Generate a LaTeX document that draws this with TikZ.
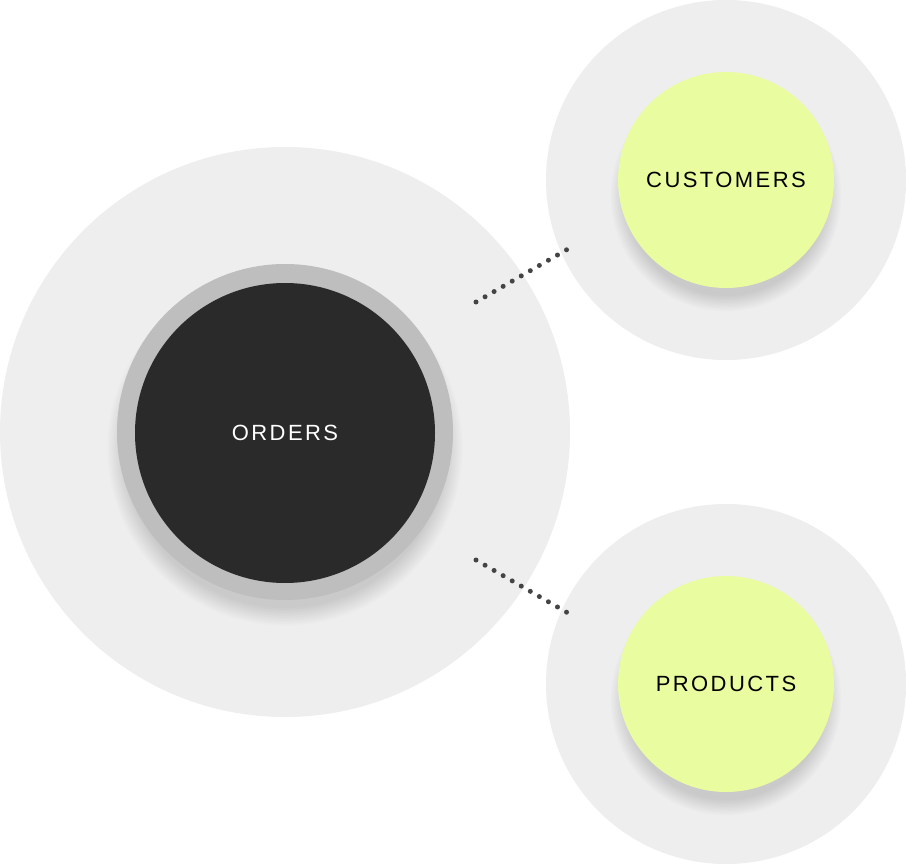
\documentclass[tikz,border=0pt]{standalone}
\usepackage{fontspec}
\setmainfont{Liberation Sans}[LetterSpace=11]
\definecolor{halo}{HTML}{EEEEEE}
\definecolor{ringc}{HTML}{BEBEBE}
\definecolor{darkc}{HTML}{2A2A2A}
\definecolor{limec}{HTML}{EAFCA0}
\definecolor{dotc}{HTML}{444444}
\tikzset{
  halocirc/.style={circle, fill=halo, draw=none, inner sep=0pt},
  limecirc/.style={circle, fill=limec, draw=none, inner sep=0pt, minimum size=216pt,
     font=\fontsize{22}{26}\selectfont, text=black},
  softshadow/.style={black, fill opacity=0.011, draw=none},
  dotline/.style={dotc, line width=5pt, line cap=round, dash pattern=on 0pt off 10.45pt},
}
\begin{document}
\begin{tikzpicture}[x=1pt,y=-1pt]
\useasboundingbox (0,0) rectangle (906,864);
\fill[white] (0,0) rectangle (906,864);
% halos
\node[halocirc, minimum size=570pt] (bighalo) at (285,432) {};
\node[halocirc, minimum size=360pt] (custhalo) at (726,180) {};
\node[halocirc, minimum size=360pt] (prodhalo) at (726,684) {};
% soft shadows
\foreach \i in {0,...,11} {
  \fill[softshadow] (285,448) circle ({160+\i*1.6});
  \fill[softshadow] (726,196) circle ({100+\i*1.4});
  \fill[softshadow] (726,700) circle ({100+\i*1.4});
}
% orders
\node[circle, fill=ringc, inner sep=0pt, minimum size=336pt] (ring) at (285,432) {};
\node[circle, fill=darkc, inner sep=0pt, minimum size=300pt, text=white,
  font=\fontsize{22}{26}\selectfont] (orders) at (285,433) {ORDERS};
% satellites
\node[limecirc] (customers) at (726,180) {CUSTOMERS};
\node[limecirc] (products) at (726,684) {PRODUCTS};
% dotted connectors
\coordinate (a1) at (476,302);
\coordinate (a2) at (570.5,247.5);
\coordinate (b1) at (476,560);
\coordinate (b2) at (570.5,614.5);
\draw[dotline] (a1) -- (a2);
\draw[dotline] (b1) -- (b2);
\end{tikzpicture}
\end{document}
